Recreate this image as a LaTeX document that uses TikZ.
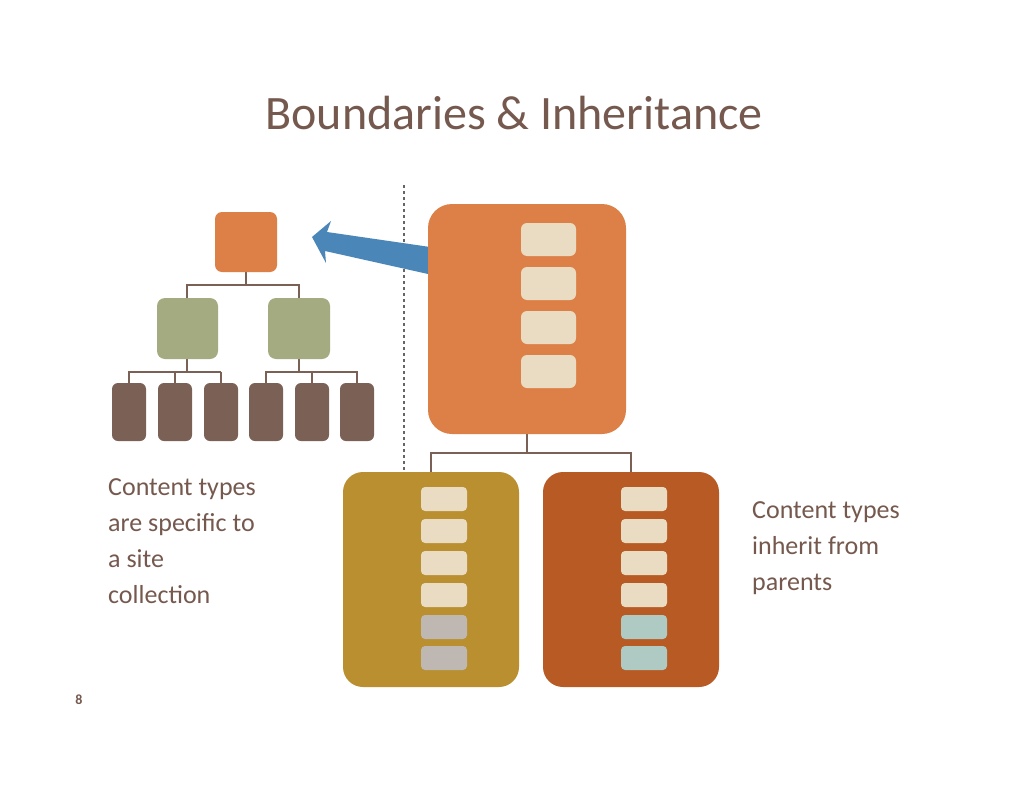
\documentclass[tikz,border=0pt]{standalone}
\usepackage{fontspec}
\setmainfont{Carlito}
\begin{document}
\begin{tikzpicture}[x=1pt,y=-1pt,
  txt/.style={text=tc,font=\fontsize{26}{36}\selectfont,anchor=north west,align=left,inner sep=0},
  bx/.style={rounded corners=#1,draw=none},
  ln/.style={draw=lc,line width=1.3pt}]
\definecolor{tc}{HTML}{76594E}
\definecolor{lc}{HTML}{7A6055}
\definecolor{org}{HTML}{DD8047}
\definecolor{grn}{HTML}{A5AB81}
\definecolor{brn}{HTML}{7B6055}
\definecolor{crm}{HTML}{EADCC2}
\definecolor{olv}{HTML}{B98F2F}
\definecolor{rst}{HTML}{B85A24}
\definecolor{gry}{HTML}{BFB8B2}
\definecolor{tea}{HTML}{AFC9C3}
\definecolor{blu}{HTML}{4A86B8}
\useasboundingbox (0,0) rectangle (1024,792);
\fill[white] (0,0) rectangle (1024,792);
\node[text=tc,font=\fontsize{48}{56}\selectfont] (title) at (514,113) {Boundaries \& Inheritance};
\draw[gray!80!black,dashed,line width=1.2pt] (404,185) -- (404,470);
% small tree lines
\draw[ln] (246,272) -- (246,285) (187,298) -- (187,285) -- (299,285) -- (299,298);
\draw[ln] (187,359) -- (187,372) (129,383) -- (129,372) -- (219,372) (175,372)--(175,383) (221,372)--(221,383) (219,372)--(221,372);
\draw[ln] (299,359) -- (299,372) (266,383) -- (266,372) -- (357,372) -- (357,383) (312,372)--(312,383);
\fill[org,bx=7pt] (215,212) rectangle (277,272);
\fill[grn,bx=8pt] (157,298) rectangle (218,359);
\fill[grn,bx=8pt] (268,298) rectangle (330,359);
\foreach \x in {112,158,204,249,295,340} \fill[brn,bx=6pt] (\x,383) rectangle ++(34,58);
% arrow
\fill[blu] (437,248) -- (327,232) -- (331,221) -- (312,237) -- (326,263) -- (325,251) -- (437,276) -- (428,261) -- cycle;
% big tree lines
\draw[ln] (527,434) -- (527,453) (431,472) -- (431,453) -- (631,453) -- (631,472);
\fill[org,bx=24pt] (428,204) rectangle (626,434);
\foreach \y in {223,267,311,355} \fill[crm,bx=6pt] (521,\y) rectangle ++(55,33);
\fill[olv,bx=20pt] (343,472) rectangle (519,687);
\fill[rst,bx=20pt] (543,472) rectangle (719,687);
\foreach \y in {487,519,551,583} {\fill[crm,bx=4pt] (421,\y) rectangle ++(46,24); \fill[crm,bx=4pt] (621,\y) rectangle ++(46,24);}
\foreach \y in {615,646} {\fill[gry,bx=4pt] (421,\y) rectangle ++(46,24); \fill[tea,bx=4pt] (621,\y) rectangle ++(46,24);}
\node[txt] (lt) at (108,478) {Content types\\are specific to\\a site\\collection};
\node[txt] (rt) at (752,501) {Content types\\inherit from\\parents};
\node[text=tc,font=\bfseries\fontsize{14}{16}\selectfont] (pg) at (79,700) {8};
\end{tikzpicture}
\end{document}
